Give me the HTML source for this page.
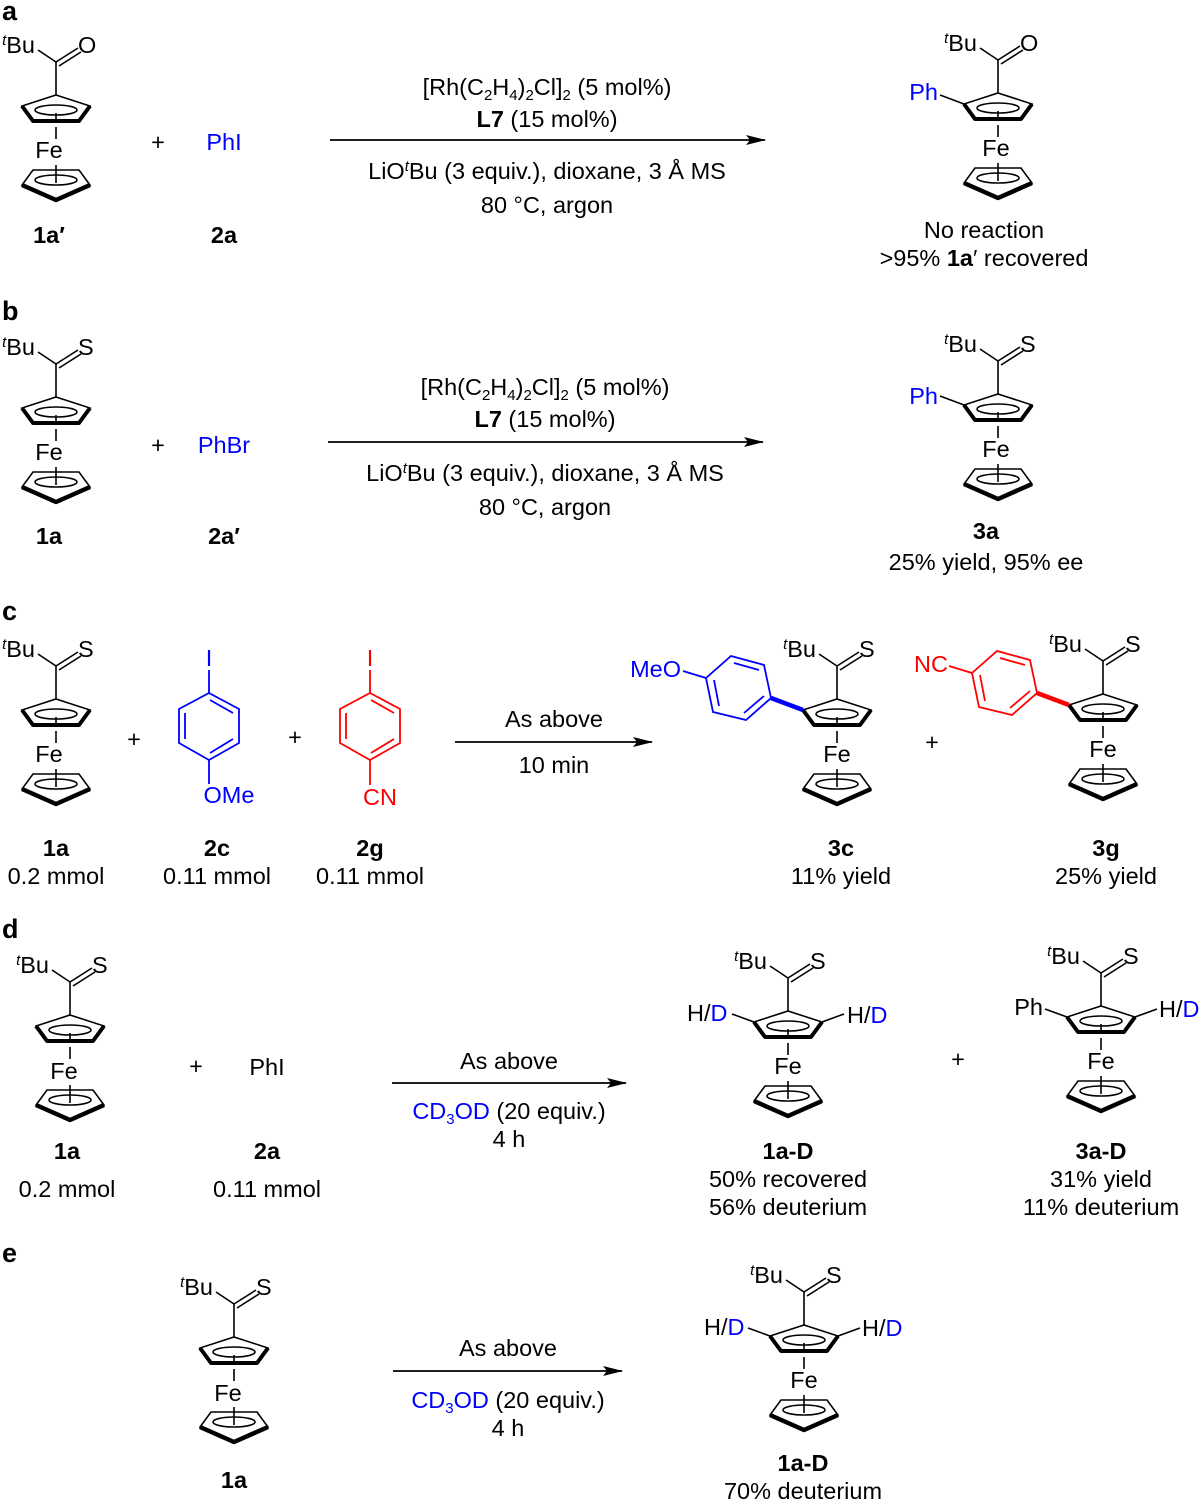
<!DOCTYPE html>
<html><head><meta charset="utf-8"><style>
html,body{margin:0;padding:0;background:#fff}
svg{display:block}
text{font-family:"Liberation Sans",Arial,sans-serif;font-size:23.5px;fill:#000}
.b{font-weight:bold}
.bl{fill:#0000ff}
.rd{fill:#ff0000}
.sec{font-weight:bold;font-size:27px}
</style></head><body>
<svg width="1200" height="1500" viewBox="0 0 1200 1500" xmlns="http://www.w3.org/2000/svg">
<defs>
<g id="fc" stroke="#000" fill="none" stroke-width="1.6">
<polygon points="0,-15 34,-4 23,11 -23,11 -34,-4"/>
<polyline points="-34,-4 -23,11 23,11 34,-4" stroke-width="4" stroke-linejoin="round"/>
<ellipse cx="0" cy="0" rx="21" ry="5"/>
<line x1="0" y1="3" x2="0" y2="9"/>
<line x1="0" y1="17" x2="0" y2="29"/>
<polygon points="-23,60 23,60 34,75 0,90 -34,75"/>
<polyline points="-34,75 0,90 34,75" stroke-width="4.5" stroke-linejoin="round"/>
<ellipse cx="0" cy="70" rx="21" ry="5"/>
<line x1="0" y1="55" x2="0" y2="73"/>
</g>
<g id="sub" stroke="#000" fill="none" stroke-width="1.6">
<line x1="0" y1="-15" x2="0" y2="-48"/>
<line x1="0" y1="-48" x2="-18" y2="-60"/>
<line x1="0" y1="-48" x2="22" y2="-62"/>
<line x1="3" y1="-44" x2="25" y2="-58"/>
</g>
<marker id="ah" markerWidth="20" markerHeight="12" refX="19" refY="6" orient="auto" markerUnits="userSpaceOnUse">
<path d="M0,1 L20,6 L0,11 L4,6 Z" fill="#000"/>
</marker>
</defs>

<text x="2" y="20" class="sec">a</text>
<text x="2" y="320" class="sec">b</text>
<text x="2" y="620" class="sec">c</text>
<text x="2" y="938" class="sec">d</text>
<text x="2" y="1262" class="sec">e</text>

<!-- ===== a ===== -->
<g transform="translate(56,110)">
<use href="#fc"/><use href="#sub"/>
<text x="-7" y="48" text-anchor="middle">Fe</text>
<text x="-21" y="-57" text-anchor="end"><tspan font-size="15" font-style="italic" dy="-8">t</tspan><tspan dy="8">Bu</tspan></text>
<text x="22" y="-57">O</text>
</g>
<text x="49" y="243" text-anchor="middle" class="b">1a′</text>
<text x="158" y="150" text-anchor="middle">+</text>
<text x="224" y="150" text-anchor="middle" class="bl">PhI</text>
<text x="224" y="243" text-anchor="middle" class="b">2a</text>
<line x1="330" y1="140" x2="765" y2="140" stroke="#000" stroke-width="1.8" marker-end="url(#ah)"/>
<text x="547" y="95" text-anchor="middle">[Rh(C<tspan font-size="15" dy="5">2</tspan><tspan dy="-5">H</tspan><tspan font-size="15" dy="5">4</tspan><tspan dy="-5">)</tspan><tspan font-size="15" dy="5">2</tspan><tspan dy="-5">Cl]</tspan><tspan font-size="15" dy="5">2</tspan><tspan dy="-5"> (5 mol%)</tspan></text>
<text x="547" y="127" text-anchor="middle"><tspan class="b">L7</tspan> (15 mol%)</text>
<text x="547" y="179" text-anchor="middle">LiO<tspan font-size="15" font-style="italic" dy="-8">t</tspan><tspan dy="8">Bu (3 equiv.), dioxane, 3 Å MS</tspan></text>
<text x="547" y="213" text-anchor="middle">80 °C, argon</text>
<g transform="translate(998,108)">
<use href="#fc"/><use href="#sub"/>
<text x="-2" y="48" text-anchor="middle">Fe</text>
<text x="-21" y="-57" text-anchor="end"><tspan font-size="15" font-style="italic" dy="-8">t</tspan><tspan dy="8">Bu</tspan></text>
<text x="22" y="-57">O</text>
<line x1="-34" y1="-4" x2="-58" y2="-13" stroke="#000" stroke-width="1.6"/>
<text x="-60" y="-8" text-anchor="end" class="bl">Ph</text>
</g>
<text x="984" y="238" text-anchor="middle">No reaction</text>
<text x="984" y="266" text-anchor="middle">&gt;95% <tspan class="b">1a</tspan>′ recovered</text>

<!-- ===== b ===== -->
<g transform="translate(56,412)">
<use href="#fc"/><use href="#sub"/>
<text x="-7" y="48" text-anchor="middle">Fe</text>
<text x="-21" y="-57" text-anchor="end"><tspan font-size="15" font-style="italic" dy="-8">t</tspan><tspan dy="8">Bu</tspan></text>
<text x="22" y="-57">S</text>
</g>
<text x="49" y="544" text-anchor="middle" class="b">1a</text>
<text x="158" y="453" text-anchor="middle">+</text>
<text x="224" y="453" text-anchor="middle" class="bl">PhBr</text>
<text x="224" y="544" text-anchor="middle" class="b">2a′</text>
<line x1="328" y1="442" x2="763" y2="442" stroke="#000" stroke-width="1.8" marker-end="url(#ah)"/>
<text x="545" y="395" text-anchor="middle">[Rh(C<tspan font-size="15" dy="5">2</tspan><tspan dy="-5">H</tspan><tspan font-size="15" dy="5">4</tspan><tspan dy="-5">)</tspan><tspan font-size="15" dy="5">2</tspan><tspan dy="-5">Cl]</tspan><tspan font-size="15" dy="5">2</tspan><tspan dy="-5"> (5 mol%)</tspan></text>
<text x="545" y="427" text-anchor="middle"><tspan class="b">L7</tspan> (15 mol%)</text>
<text x="545" y="481" text-anchor="middle">LiO<tspan font-size="15" font-style="italic" dy="-8">t</tspan><tspan dy="8">Bu (3 equiv.), dioxane, 3 Å MS</tspan></text>
<text x="545" y="515" text-anchor="middle">80 °C, argon</text>
<g transform="translate(998,409)">
<use href="#fc"/><use href="#sub"/>
<text x="-2" y="48" text-anchor="middle">Fe</text>
<text x="-21" y="-57" text-anchor="end"><tspan font-size="15" font-style="italic" dy="-8">t</tspan><tspan dy="8">Bu</tspan></text>
<text x="22" y="-57">S</text>
<line x1="-34" y1="-4" x2="-58" y2="-13" stroke="#000" stroke-width="1.6"/>
<text x="-60" y="-5" text-anchor="end" class="bl">Ph</text>
</g>
<text x="986" y="539" text-anchor="middle" class="b">3a</text>
<text x="986" y="570" text-anchor="middle">25% yield, 95% ee</text>

<!-- ===== c ===== -->
<g transform="translate(56,714)">
<use href="#fc"/><use href="#sub"/>
<text x="-7" y="48" text-anchor="middle">Fe</text>
<text x="-21" y="-57" text-anchor="end"><tspan font-size="15" font-style="italic" dy="-8">t</tspan><tspan dy="8">Bu</tspan></text>
<text x="22" y="-57">S</text>
</g>
<text x="56" y="856" text-anchor="middle" class="b">1a</text>
<text x="56" y="884" text-anchor="middle">0.2 mmol</text>
<text x="134" y="747" text-anchor="middle">+</text>
<g stroke="#0000ff" fill="none" stroke-width="1.8">
<polygon points="209,693 239,709 239,743 209,760 179,743 179,709"/>
<line x1="210" y1="700" x2="233" y2="713"/>
<line x1="185" y1="713" x2="185" y2="739"/>
<line x1="210" y1="753" x2="233" y2="739"/>
<line x1="209" y1="670" x2="209" y2="693"/>
<line x1="209" y1="760" x2="209" y2="784"/>
</g>
<text x="209" y="666" text-anchor="middle" class="bl">I</text>
<text x="229" y="803" text-anchor="middle" class="bl">OMe</text>
<text x="217" y="856" text-anchor="middle" class="b">2c</text>
<text x="217" y="884" text-anchor="middle">0.11 mmol</text>
<text x="295" y="745" text-anchor="middle">+</text>
<g stroke="#ff0000" fill="none" stroke-width="1.8">
<polygon points="370,693 400,709 400,743 370,760 340,743 340,709"/>
<line x1="371" y1="700" x2="394" y2="713"/>
<line x1="346" y1="713" x2="346" y2="739"/>
<line x1="371" y1="753" x2="394" y2="739"/>
<line x1="370" y1="670" x2="370" y2="693"/>
<line x1="370" y1="760" x2="370" y2="785"/>
</g>
<text x="370" y="666" text-anchor="middle" class="rd">I</text>
<text x="380" y="805" text-anchor="middle" class="rd">CN</text>
<text x="370" y="856" text-anchor="middle" class="b">2g</text>
<text x="370" y="884" text-anchor="middle">0.11 mmol</text>
<line x1="455" y1="742" x2="652" y2="742" stroke="#000" stroke-width="1.8" marker-end="url(#ah)"/>
<text x="554" y="727" text-anchor="middle">As above</text>
<text x="554" y="773" text-anchor="middle">10 min</text>
<g transform="translate(837,714)">
<use href="#fc"/><use href="#sub"/>
<text x="0" y="48" text-anchor="middle">Fe</text>
<text x="-21" y="-57" text-anchor="end"><tspan font-size="15" font-style="italic" dy="-8">t</tspan><tspan dy="8">Bu</tspan></text>
<text x="22" y="-57">S</text>
</g>
<g stroke="#0000ff" fill="none" stroke-width="1.8">
<polygon points="706,678 731,656 764,665 771,698 746,720 713,712"/>
<line x1="734" y1="663" x2="759" y2="670"/>
<line x1="714" y1="680" x2="719" y2="706"/>
<line x1="744" y1="713" x2="764" y2="696"/>
<line x1="683" y1="671" x2="706" y2="678"/>
</g>
<line x1="771" y1="698" x2="803" y2="710" stroke="#0000ff" stroke-width="4.5"/>
<text x="681" y="677" text-anchor="end" class="bl">MeO</text>
<text x="841" y="856" text-anchor="middle" class="b">3c</text>
<text x="841" y="884" text-anchor="middle">11% yield</text>
<text x="932" y="750" text-anchor="middle">+</text>
<g transform="translate(1103,709)">
<use href="#fc"/><use href="#sub"/>
<text x="0" y="48" text-anchor="middle">Fe</text>
<text x="-21" y="-57" text-anchor="end"><tspan font-size="15" font-style="italic" dy="-8">t</tspan><tspan dy="8">Bu</tspan></text>
<text x="22" y="-57">S</text>
</g>
<g stroke="#ff0000" fill="none" stroke-width="1.8">
<polygon points="972,673 997,651 1030,660 1037,693 1012,715 979,707"/>
<line x1="1000" y1="658" x2="1025" y2="665"/>
<line x1="980" y1="675" x2="985" y2="701"/>
<line x1="1010" y1="708" x2="1030" y2="691"/>
<line x1="949" y1="666" x2="972" y2="673"/>
</g>
<line x1="1037" y1="693" x2="1069" y2="705" stroke="#ff0000" stroke-width="4.5"/>
<text x="948" y="672" text-anchor="end" class="rd">NC</text>
<text x="1106" y="856" text-anchor="middle" class="b">3g</text>
<text x="1106" y="884" text-anchor="middle">25% yield</text>

<!-- ===== d ===== -->
<g transform="translate(70,1030)">
<use href="#fc"/><use href="#sub"/>
<text x="-6" y="49" text-anchor="middle">Fe</text>
<text x="-21" y="-57" text-anchor="end"><tspan font-size="15" font-style="italic" dy="-8">t</tspan><tspan dy="8">Bu</tspan></text>
<text x="22" y="-57">S</text>
</g>
<text x="67" y="1159" text-anchor="middle" class="b">1a</text>
<text x="67" y="1197" text-anchor="middle">0.2 mmol</text>
<text x="196" y="1074" text-anchor="middle">+</text>
<text x="267" y="1075" text-anchor="middle">PhI</text>
<text x="267" y="1159" text-anchor="middle" class="b">2a</text>
<text x="267" y="1197" text-anchor="middle">0.11 mmol</text>
<line x1="392" y1="1083" x2="626" y2="1083" stroke="#000" stroke-width="1.8" marker-end="url(#ah)"/>
<text x="509" y="1069" text-anchor="middle">As above</text>
<text x="509" y="1119" text-anchor="middle"><tspan class="bl">CD<tspan font-size="15" dy="5">3</tspan><tspan dy="-5">OD</tspan></tspan> (20 equiv.)</text>
<text x="509" y="1147" text-anchor="middle">4 h</text>
<g transform="translate(788,1026)">
<use href="#fc"/><use href="#sub"/>
<text x="0" y="48" text-anchor="middle">Fe</text>
<text x="-21" y="-57" text-anchor="end"><tspan font-size="15" font-style="italic" dy="-8">t</tspan><tspan dy="8">Bu</tspan></text>
<text x="22" y="-57">S</text>
<line x1="-34" y1="-4" x2="-56" y2="-12" stroke="#000" stroke-width="1.6"/>
<line x1="34" y1="-4" x2="56" y2="-12" stroke="#000" stroke-width="1.6"/>
</g>
<text x="687" y="1021">H/<tspan class="bl">D</tspan></text>
<text x="847" y="1023">H/<tspan class="bl">D</tspan></text>
<text x="788" y="1159" text-anchor="middle" class="b">1a-D</text>
<text x="788" y="1187" text-anchor="middle">50% recovered</text>
<text x="788" y="1215" text-anchor="middle">56% deuterium</text>
<text x="958" y="1067" text-anchor="middle">+</text>
<g transform="translate(1101,1021)">
<use href="#fc"/><use href="#sub"/>
<text x="0" y="48" text-anchor="middle">Fe</text>
<text x="-21" y="-57" text-anchor="end"><tspan font-size="15" font-style="italic" dy="-8">t</tspan><tspan dy="8">Bu</tspan></text>
<text x="22" y="-57">S</text>
<line x1="-34" y1="-4" x2="-56" y2="-12" stroke="#000" stroke-width="1.6"/>
<line x1="34" y1="-4" x2="56" y2="-12" stroke="#000" stroke-width="1.6"/>
</g>
<text x="1043" y="1015" text-anchor="end">Ph</text>
<text x="1159" y="1017">H/<tspan class="bl">D</tspan></text>
<text x="1101" y="1159" text-anchor="middle" class="b">3a-D</text>
<text x="1101" y="1187" text-anchor="middle">31% yield</text>
<text x="1101" y="1215" text-anchor="middle">11% deuterium</text>

<!-- ===== e ===== -->
<g transform="translate(234,1352)">
<use href="#fc"/><use href="#sub"/>
<text x="-6" y="49" text-anchor="middle">Fe</text>
<text x="-21" y="-57" text-anchor="end"><tspan font-size="15" font-style="italic" dy="-8">t</tspan><tspan dy="8">Bu</tspan></text>
<text x="22" y="-57">S</text>
</g>
<text x="234" y="1488" text-anchor="middle" class="b">1a</text>
<line x1="393" y1="1371" x2="622" y2="1371" stroke="#000" stroke-width="1.8" marker-end="url(#ah)"/>
<text x="508" y="1356" text-anchor="middle">As above</text>
<text x="508" y="1408" text-anchor="middle"><tspan class="bl">CD<tspan font-size="15" dy="5">3</tspan><tspan dy="-5">OD</tspan></tspan> (20 equiv.)</text>
<text x="508" y="1436" text-anchor="middle">4 h</text>
<g transform="translate(804,1340)">
<use href="#fc"/><use href="#sub"/>
<text x="0" y="48" text-anchor="middle">Fe</text>
<text x="-21" y="-57" text-anchor="end"><tspan font-size="15" font-style="italic" dy="-8">t</tspan><tspan dy="8">Bu</tspan></text>
<text x="22" y="-57">S</text>
<line x1="-34" y1="-4" x2="-56" y2="-12" stroke="#000" stroke-width="1.6"/>
<line x1="34" y1="-4" x2="56" y2="-12" stroke="#000" stroke-width="1.6"/>
</g>
<text x="704" y="1335">H/<tspan class="bl">D</tspan></text>
<text x="862" y="1336">H/<tspan class="bl">D</tspan></text>
<text x="803" y="1471" text-anchor="middle" class="b">1a-D</text>
<text x="803" y="1499" text-anchor="middle">70% deuterium</text>
</svg>
</body></html>
